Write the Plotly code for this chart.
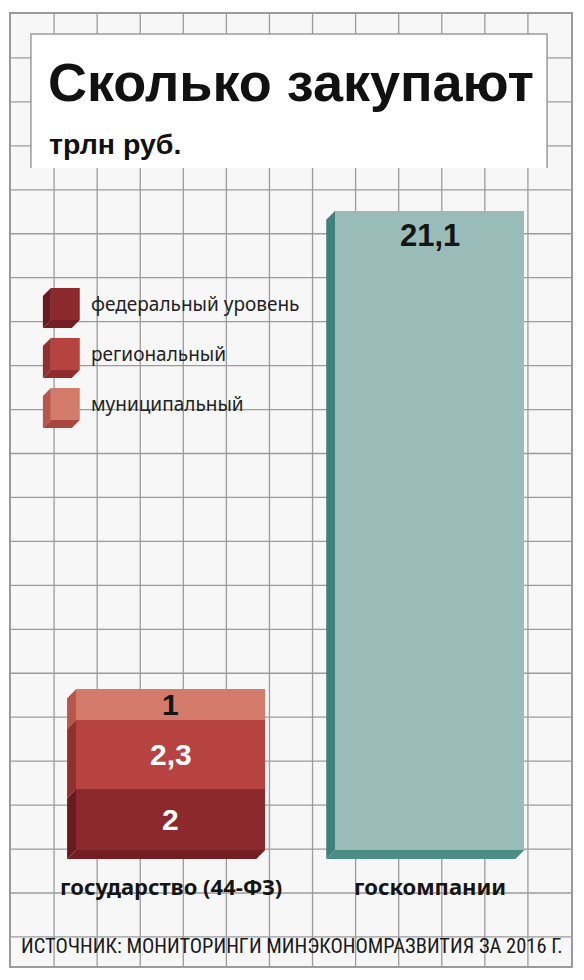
import plotly.graph_objects as go

# --- data (трлн руб.) ---
categories = ["государство (44-ФЗ)", "госкомпании"]
levels = ["федеральный уровень", "региональный", "муниципальный"]
state_values = [2, 2.3, 1]           # снизу вверх
state_labels = ["2", "2,3", "1"]
corp_values = [21.1]
corp_labels = ["21,1"]

title = "Сколько закупают"
subtitle = "трлн руб."
source = "ИСТОЧНИК: МОНИТОРИНГИ МИНЭКОНОМРАЗВИТИЯ ЗА 2016 Г."

# --- geometry / styles (page pixels) ---
PAGE_W, PAGE_H = 584, 980
OFF = 8                       # body margin of the html page
W, H = PAGE_W - 2 * OFF, PAGE_H - 2 * OFF
PL, PR, PT, PB = 11, 573, 14, 966   # grid box on the page
L, R, T, B = PL - OFF, PAGE_W - OFF - PR, PT - OFF, PAGE_H - OFF - PB
PW, PH = PR - PL, PB - PT
X_RANGE = [-0.616, 1.545]
Y_RANGE = [-3.83, 27.59]
BAR_W = 0.73
DEPTH = 9  # px, 3d edge

px_x = PW / (X_RANGE[1] - X_RANGE[0])
px_y = PH / (Y_RANGE[1] - Y_RANGE[0])
dx, dy = DEPTH / px_x, DEPTH / px_y

level_front = ["#8b292d", "#b6433f", "#d37b6b"]
level_side = ["#6a1a1f", "#93302e", "#b9554b"]
level_bottom = ["#721e22", "#8f2d2c", "#a9463f"]
label_colors = ["white", "white", "#151515"]
teal_front, teal_side, teal_bottom = "#9abcb8", "#3e8279", "#4c8d85"
GRID = "#9b9b9b"

HEAVY = "Liberation Sans, Arial, sans-serif"
ROUND = "Noto Sans, Open Sans, sans-serif"
NARROW = "Roboto Condensed, Roboto, sans-serif"


def px(xp):
    return (xp - PL) / PW


def py(yp):
    return (PB - yp) / PH


def poly(points, color, ref="paper"):
    d = "M " + " L ".join(f"{a},{b}" for a, b in points) + " Z"
    return dict(type="path", path=d, xref="x" if ref == "data" else "paper",
                yref="y" if ref == "data" else "paper",
                fillcolor=color, line=dict(width=0), layer="below")


fig = go.Figure()
xpos = list(range(len(categories)))

for i, lvl in enumerate(levels):
    fig.add_trace(go.Bar(
        x=[xpos[0]], y=[state_values[i]], width=BAR_W, name=lvl,
        marker=dict(color=level_front[i], line=dict(width=0)),
        hovertemplate=f"{lvl}: {state_labels[i]}<extra></extra>",
        showlegend=False,
    ))
fig.add_trace(go.Bar(
    x=[xpos[1]], y=corp_values, width=BAR_W, name=categories[1],
    marker=dict(color=teal_front, line=dict(width=0)),
    hovertemplate="%{y}<extra></extra>", showlegend=False,
))

shapes = []
# grid
for k in range(1, 13):
    xp = PL + k * PW / 13
    shapes.append(dict(type="line", xref="paper", yref="paper", x0=px(xp), x1=px(xp),
                       y0=0, y1=1, line=dict(color=GRID, width=1.3), layer="below"))
for k in range(1, 22):
    yp = PT + k * 43.95
    shapes.append(dict(type="line", xref="paper", yref="paper", x0=0, x1=1,
                       y0=py(yp), y1=py(yp), line=dict(color=GRID, width=1.3), layer="below"))

# title box
shapes.append(dict(type="rect", xref="paper", yref="paper", x0=px(31), x1=px(549),
                   y0=py(168), y1=py(34), fillcolor="white", line=dict(width=0), layer="below"))
shapes.append(dict(type="path", xref="paper", yref="paper",
                   path=f"M {px(31)},{py(168)} L {px(31)},{py(34)} L {px(549)},{py(34)} L {px(549)},{py(168)}",
                   line=dict(color=GRID, width=1.5), layer="below"))

# 3d faces of the stacked bar
x0 = xpos[0] - BAR_W / 2
x1 = xpos[0] + BAR_W / 2
base = 0
for i, v in enumerate(state_values):
    shapes.append(poly([(x0, base), (x0, base + v), (x0 - dx, base + v - dy), (x0 - dx, base - dy)],
                       level_side[i], "data"))
    base += v
shapes.append(poly([(x0, 0), (x1, 0), (x1 - dx, -dy), (x0 - dx, -dy)], level_bottom[0], "data"))

# 3d faces of the teal bar
x0 = xpos[1] - BAR_W / 2
x1 = xpos[1] + BAR_W / 2
top = corp_values[0]
shapes.append(poly([(x0, 0), (x0, top), (x0 - dx, top - dy), (x0 - dx, -dy)], teal_side, "data"))
shapes.append(poly([(x0, 0), (x1, 0), (x1 - dx, -dy), (x0 - dx, -dy)], teal_bottom, "data"))

# legend cubes
for i in range(len(levels)):
    fx0, fy0, fw, fh, d = 51, 288 + 50 * i, 29, 32, 8
    shapes.append(poly([(px(fx0), py(fy0)), (px(fx0), py(fy0 + fh)), (px(fx0 - d), py(fy0 + fh + d)),
                        (px(fx0 - d), py(fy0 + d))], level_side[i]))
    shapes.append(poly([(px(fx0), py(fy0 + fh)), (px(fx0 + fw), py(fy0 + fh)),
                        (px(fx0 + fw - d), py(fy0 + fh + d)), (px(fx0 - d), py(fy0 + fh + d))],
                       level_bottom[i]))
    shapes.append(dict(type="rect", xref="paper", yref="paper", x0=px(fx0), x1=px(fx0 + fw),
                       y0=py(fy0 + fh), y1=py(fy0), fillcolor=level_front[i],
                       line=dict(width=0), layer="below"))

annotations = [
    dict(text=title, x=px(46), y=py(82), xref="paper", yref="paper", xanchor="left",
         yanchor="middle", showarrow=False, font=dict(family=HEAVY, size=54, color="#111111", weight="bold")),
    dict(text=subtitle, x=px(47), y=py(144), xref="paper", yref="paper", xanchor="left",
         yanchor="middle", showarrow=False, font=dict(family=HEAVY, size=28.5, color="#111111", weight="bold")),
    dict(text=source, x=px(293), y=py(946), xref="paper", yref="paper", xanchor="center",
         yanchor="middle", showarrow=False, font=dict(family=NARROW, size=20.5, color="#1a1a1a")),
]
for i, lvl in enumerate(levels):
    annotations.append(dict(text=lvl, x=px(89), y=py(304 + 50 * i), xref="paper", yref="paper",
                            xanchor="left", yanchor="middle", showarrow=False,
                            font=dict(family=ROUND, size=19, color="#222222")))
for i, cat in enumerate(categories):
    annotations.append(dict(text=cat, x=xpos[i], y=0, xref="x", yref="y", yshift=-36,
                            yanchor="middle", showarrow=False,
                            font=dict(family=ROUND, size=22, color="#151515", weight="bold")))
base = 0
for i, v in enumerate(state_values):
    annotations.append(dict(text=state_labels[i], x=xpos[0], y=base + v / 2, xref="x", yref="y",
                            showarrow=False, yanchor="middle",
                            font=dict(family=HEAVY, size=30, color=label_colors[i], weight="bold")))
    base += v
annotations.append(dict(text=corp_labels[0], x=xpos[1], y=corp_values[0], xref="x", yref="y",
                        yshift=-25, yanchor="middle", showarrow=False,
                        font=dict(family=HEAVY, size=31, color="#151515", weight="bold")))

fig.update_layout(
    width=W, height=H,
    margin=dict(l=L, r=R, t=T, b=B, pad=0),
    paper_bgcolor="white", plot_bgcolor="#f7f7f7",
    barmode="stack", bargap=0,
    shapes=shapes, annotations=annotations,
    showlegend=False,
)
fig.update_xaxes(range=X_RANGE, showgrid=False, zeroline=False, showticklabels=False,
                 showline=True, mirror=True, linecolor=GRID, linewidth=1.5, fixedrange=True)
fig.update_yaxes(range=Y_RANGE, showgrid=False, zeroline=False, showticklabels=False,
                 showline=True, mirror=True, linecolor=GRID, linewidth=1.5, fixedrange=True)

fig.write_html("out.html")
